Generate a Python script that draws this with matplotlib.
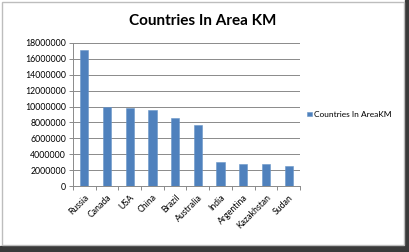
import matplotlib.pyplot as plt
from matplotlib.patches import Rectangle
import numpy as np

countries = ["Russia", "Canada", "USA", "China", "Brazil", "Australia",
             "India", "Argentina", "Kazakhstan", "Sudan"]
area_km = [17098242, 9984670, 9826675, 9596961, 8514877, 7741220,
           2973190, 2780400, 2724900, 2505813]
yticks = [0, 2000000, 4000000, 6000000, 8000000, 10000000, 12000000,
          14000000, 16000000, 18000000]

plt.rcParams['font.family'] = ['Lato', 'DejaVu Sans']

W, H = 410, 252
fig = plt.figure(figsize=(W / 100, H / 100), dpi=100)

# dark shadow strips (right and bottom) + light chart frame
fig.patches.append(Rectangle((405 / W, 0), 5 / W, 1,
                             transform=fig.transFigure, color="#3a3a3a", zorder=-3))
fig.patches.append(Rectangle((0, 0), 1, 6 / H,
                             transform=fig.transFigure, color="#3a3a3a", zorder=-3))
fig.patches.append(Rectangle((2 / W, 1 - 245 / H), 402 / W, 243 / H,
                             transform=fig.transFigure, facecolor="white",
                             edgecolor="#bdbdbd", linewidth=1.0, zorder=-1))

ax = fig.add_axes([73 / W, 1 - 186 / H, (300 - 73) / W, (186 - 43) / H])
x = np.arange(len(countries))
ax.bar(x, area_km, width=0.36, color="#4F81BD", edgecolor="#6a96c8",
       linewidth=0.4, zorder=3, label="Countries In AreaKM")

ax.set_xlim(-0.5, len(countries) - 0.5)
ax.set_ylim(0, 18000000)
ax.set_yticks(yticks)
ax.set_yticklabels([str(v) for v in yticks], fontsize=6.3)
ax.yaxis.grid(True, color="#8a8a8a", linewidth=0.7, zorder=0)

ax.set_xticks(x)
ax.set_xticklabels(countries, rotation=45, ha="right", rotation_mode="anchor",
                   fontsize=6.3)
ax.set_xticks(np.arange(len(countries) + 1) - 0.5, minor=True)
ax.tick_params(axis="x", which="major", length=0, pad=5)
ax.tick_params(axis="x", which="minor", length=3, color="#8a8a8a", width=0.7)
ax.tick_params(axis="y", length=3, color="#8a8a8a", width=0.7, pad=2)

for s in ["top", "right"]:
    ax.spines[s].set_visible(False)
ax.spines["left"].set_color("#8a8a8a")
ax.spines["bottom"].set_color("#8a8a8a")
ax.spines["left"].set_linewidth(0.7)
ax.spines["bottom"].set_linewidth(0.7)

fig.text(203 / W, 1 - 21 / H, "Countries In Area KM", ha="center", va="center",
         fontsize=11, fontweight="bold")

ax.legend(loc="center left", bbox_to_anchor=(1.0, 0.5), frameon=False,
          fontsize=6.0, handlelength=0.5, handleheight=0.5, handletextpad=0.3)

fig.savefig("out.png", dpi=100)
